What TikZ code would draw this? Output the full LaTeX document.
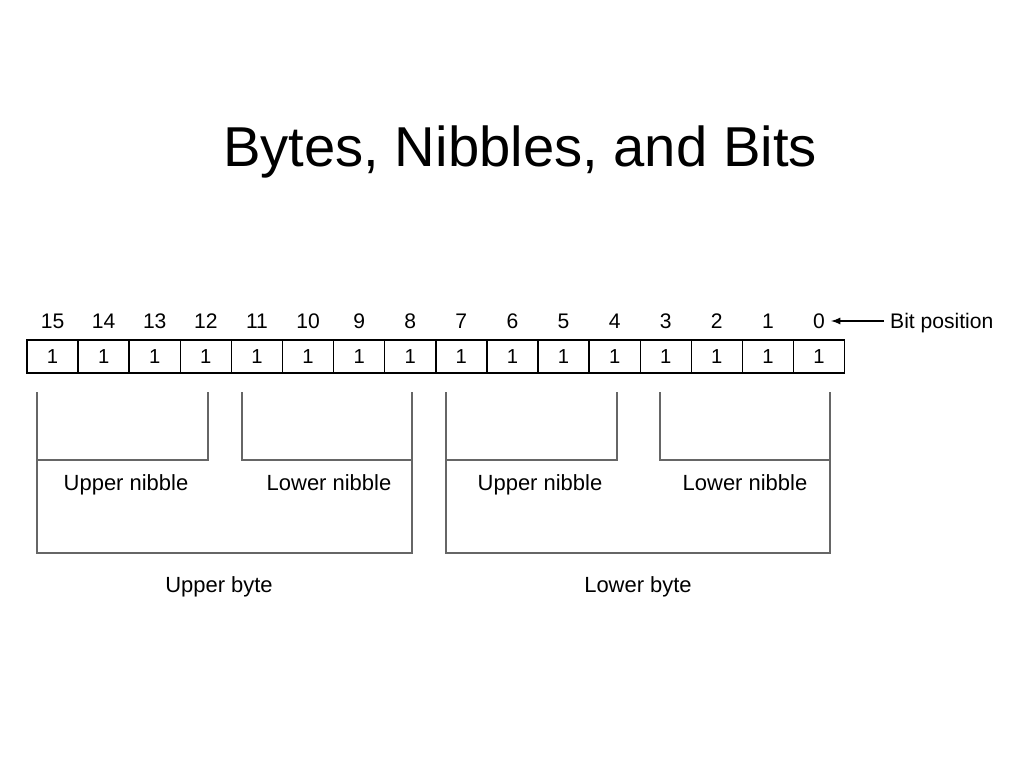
\documentclass[tikz,border=0pt]{standalone}
\usepackage{fontspec}
\setmainfont{Liberation Sans}
\usetikzlibrary{positioning}
\tikzset{
  cell/.style={rectangle, draw, thick, minimum width=51.1*0.02cm, minimum height=33*0.02cm, inner sep=0pt, font=\fontsize{11.5}{13}\selectfont},
  bitnum/.style={font=\fontsize{12}{14}\selectfont, text height=8.5pt, text depth=0pt},
  brace/.style={draw=black!60, semithick},
  lbl/.style={font=\fontsize{12.5}{14}\selectfont, text height=9pt, text depth=2.5pt}
}
\begin{document}
\begin{tikzpicture}[x=0.02cm, y=-0.02cm]
    \useasboundingbox (0,0) rectangle (1024,768);

    % Title
    \node[font=\fontsize{32}{38}\selectfont] (title) at (520,152) {Bytes, Nibbles, and Bits};

    % Cells
    \foreach \i in {0,...,15} {
      \pgfmathtruncatemacro{\b}{15-\i}
      \node[cell] (c\b) at ({27+25.55+51.1*\i},356.5) {1};
      \node[bitnum] (p\b) at ({27+25.55+51.1*\i},321) {\b};
    }

    % Bit position
    \node[bitnum, anchor=west] (bitpos) at (884,321) {Bit position};
    \draw[-latex, thick] (bitpos.west) -- (p0.east);

    % Upper byte
    \draw[brace] (37,392) -- (37,553) -- (412,553) -- (412,392);
    \draw[brace] (37,460) -- (208,460) -- (208,392);
    \draw[brace] (242,392) -- (242,460) -- (412,460);
    \node[lbl] (un1) at (126,485) {Upper nibble};
    \node[lbl] (ln1) at (329,485) {Lower nibble};
    \node[lbl] (ub) at (219,587) {Upper byte};

    % Lower byte
    \draw[brace] (446,392) -- (446,553) -- (830,553) -- (830,392);
    \draw[brace] (446,460) -- (617,460) -- (617,392);
    \draw[brace] (660,392) -- (660,460) -- (830,460);
    \node[lbl] (un2) at (540,485) {Upper nibble};
    \node[lbl] (ln2) at (745,485) {Lower nibble};
    \node[lbl] (lb) at (638,587) {Lower byte};

\end{tikzpicture}
\end{document}
